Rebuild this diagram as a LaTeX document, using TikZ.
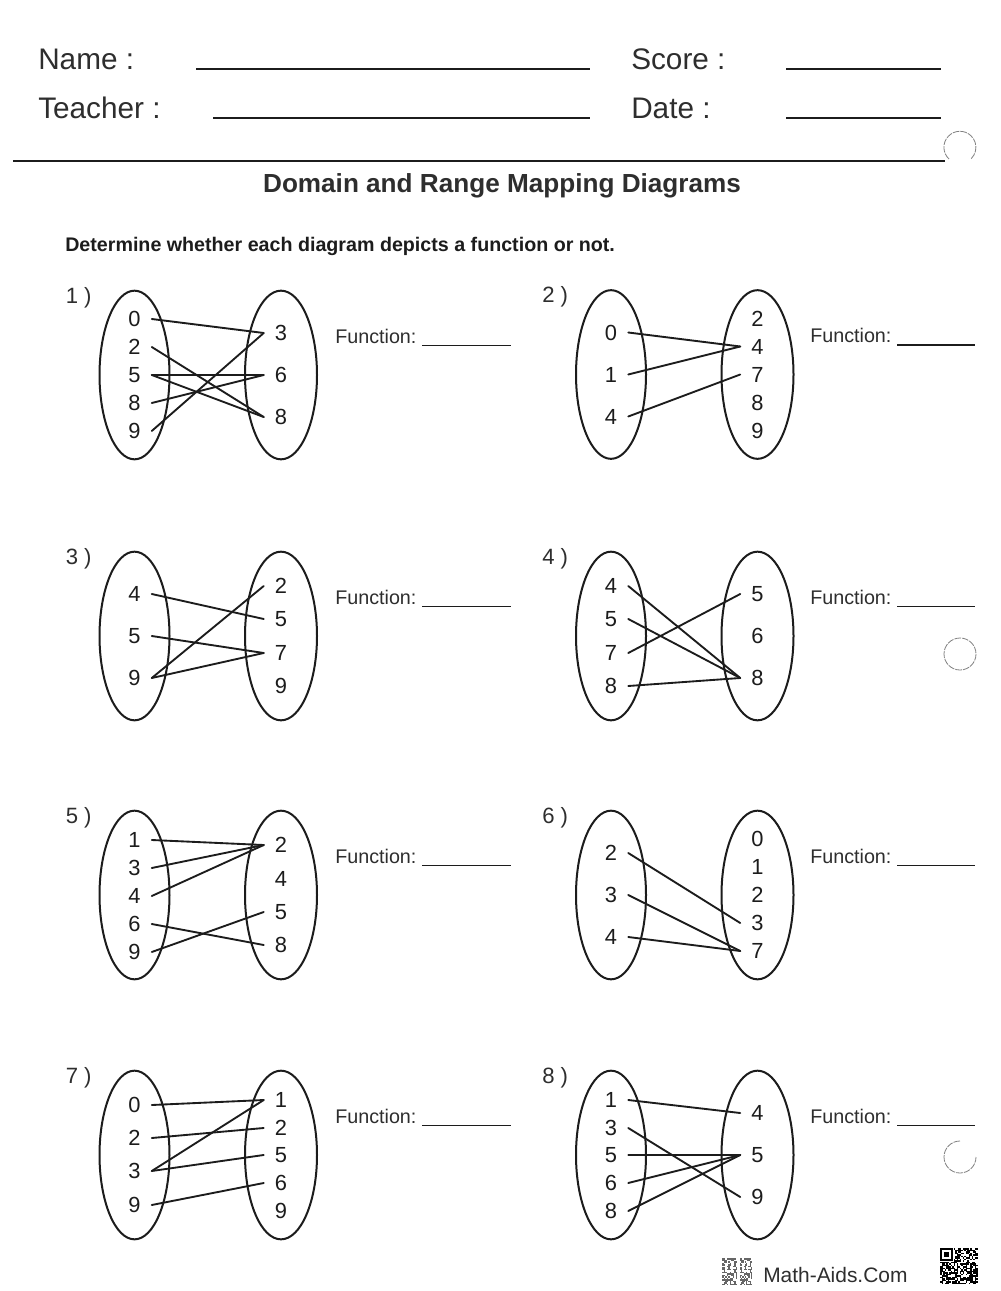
\documentclass[tikz,border=0pt]{standalone}
\usepackage{fontspec}
\setmainfont{Liberation Sans}
\usetikzlibrary{shapes.geometric}
\definecolor{ink}{HTML}{1C1C1C}
\definecolor{soft}{HTML}{2E2E2E}
\tikzset{
  oval/.style={draw=ink,line width=1.5pt,ellipse,inner sep=0pt,minimum width=52.5pt,minimum height=126.5pt},
  ovalb/.style={oval,minimum width=54pt},
  num/.style={inner sep=0pt,minimum width=25.5pt,text=ink,font=\fontsize{16.4}{17}\selectfont},
  conn/.style={draw=ink,line width=1.4pt,line cap=round},
  blank/.style={draw=ink,line width=1.3pt},
  ftext/.style={anchor=base west,inner sep=0pt,text=soft,font=\fontsize{14.8}{16}\selectfont},
  lab/.style={anchor=base west,inner sep=0pt,text=soft,font=\fontsize{16.6}{17}\selectfont},
  head/.style={anchor=base west,inner sep=0pt,text=soft,font=\fontsize{22.3}{24}\selectfont},
  hole/.style={draw=gray,line width=0.6pt,dash pattern=on 5pt off 0.8pt}
}
\newcommand{\mapdiagram}[9]{%
  % id, left x, centre y, label, left list, right list, links, function offset, blank length
  \node[oval] (d#1A) at (#2,#3) {};
  \node[ovalb] (d#1B) at (#2+146.5,#3) {};
  \node[lab] (d#1T) at (#2-69,#3-72) {#4 )};
  \foreach \n/\y in {#5} \node[num] (d#1L\n) at (#2,#3+\y) {\n};
  \foreach \n/\y in {#6} \node[num] (d#1R\n) at (#2+146.5,#3+\y) {\n};
  \foreach \a/\b in {#7} \draw[conn] (d#1L\a.east) -- (d#1R\b.west);
  \node[ftext] (d#1F) at (#2+#8,#3-32) {Function:};
  \draw[blank] (#2+#8+87,#3-29.5) -- (#2+#8+87+#9,#3-29.5);
}
\begin{document}
\begin{tikzpicture}[x=0.75pt,y=-0.75pt]
\path[use as bounding box,fill=white] (0,0) rectangle (1000,1291);
% header
\node[head] (nm) at (38,70) {Name :};
\node[head] (tc) at (38,119) {Teacher :};
\node[head] (sc) at (631,70) {Score :};
\node[head] (dt) at (631,119) {Date :};
\draw[blank] (196,69) -- (590,69);
\draw[blank] (213,118) -- (590,118);
\draw[blank] (786,69) -- (941,69);
\draw[blank] (786,118) -- (941,118);
\draw[draw=ink,line width=0.9pt] (13,161) -- (945,161);
\node[anchor=base,inner sep=0pt,text=soft,font=\bfseries\fontsize{19.6}{21}\selectfont] (ttl) at (502,193) {Domain and Range Mapping Diagrams};
\node[anchor=base west,inner sep=0pt,text=ink,font=\bfseries\fontsize{14.75}{16}\selectfont] (sub) at (65,252) {Determine whether each diagram depicts a function or not.};
% punch holes
\draw[hole] (949,159) arc (133:405:16);
\draw[hole] (960,654) circle (16);
\draw[hole] (960,1141) arc (270:0:16);
% diagrams
\mapdiagram{1}{134.5}{375}{1}{0/-56,2/-28,5/0,8/28,9/56}{3/-42,6/0,8/42}{0/3,2/8,5/6,5/8,8/6,9/3}{200.5}{89}
\mapdiagram{2}{611}{374.5}{2}{0/-42,1/0,4/42}{2/-56,4/-28,7/0,8/28,9/56}{0/4,1/4,4/7}{199}{78}
\mapdiagram{3}{134.5}{636}{3}{4/-42,5/0,9/42}{2/-50,5/-17,7/17,9/50}{4/5,5/7,9/7,9/2}{200.5}{89}
\mapdiagram{4}{611}{636}{4}{4/-50,5/-17,7/17,8/50}{5/-42,6/0,8/42}{4/8,5/8,7/5,8/8}{199}{78}
\mapdiagram{5}{134.5}{895}{5}{1/-55,3/-27,4/1,6/29,9/57}{2/-50,4/-16,5/17,8/50}{1/2,3/2,4/2,6/8,9/5}{200.5}{89}
\mapdiagram{6}{611}{895}{6}{2/-42,3/0,4/42}{0/-56,1/-28,2/0,3/28,7/56}{2/3,3/7,4/7}{199}{78}
\mapdiagram{7}{134.5}{1155}{7}{0/-50,2/-17,3/16,9/50}{1/-55,2/-27,5/0,6/28,9/56}{0/1,2/2,3/1,3/5,9/6}{200.5}{89}
\mapdiagram{8}{611}{1155}{8}{1/-55,3/-27,5/0,6/28,8/56}{4/-42,5/0,9/42}{1/4,3/9,5/5,6/5,8/5}{199}{78}
% footer
\node[anchor=base west,inner sep=0pt,text=soft,font=\fontsize{15.7}{18}\selectfont] (aids) at (763,1282) {Math-Aids.Com};
\pgfmathsetseed{11}
\foreach \i in {0,...,9} \foreach \j in {0,...,17} {
  \pgfmathrandominteger{\r}{0}{9}
  \ifnum\r<5
    \fill[gray!80!black] (722+\i*1.5,1258+\j*1.5) rectangle +(1.5,1.5);
    \fill[gray!80!black] (740+\i*1.2,1258+\j*1.5) rectangle +(1.2,1.5);
  \fi
}
\foreach \i in {0,...,24} \foreach \j in {0,...,23} {
  \pgfmathrandominteger{\r}{0}{9}
  \ifnum\r<6
    \fill[black] (940+\i*1.52,1248+\j*1.52) rectangle +(1.52,1.52);
  \fi
}
\fill[white] (939.5,1247.5) rectangle (953.5,1261.5);
\draw[black,line width=1.5pt] (941,1249) rectangle (952,1260);
\fill[black] (944,1252) rectangle (949,1257);
\end{tikzpicture}
\end{document}
